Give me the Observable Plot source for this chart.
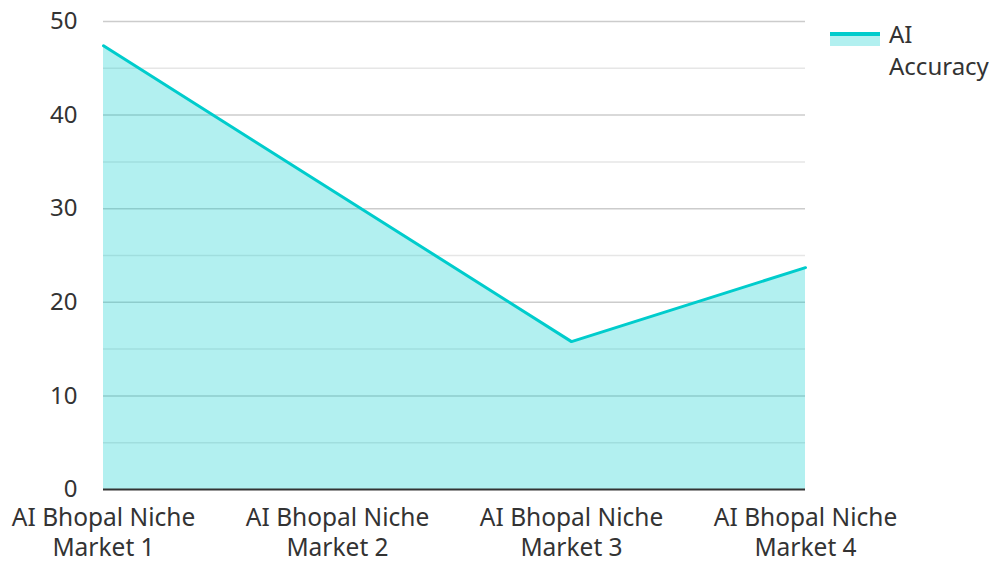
<!DOCTYPE html>
<html>
<head>
<meta charset="utf-8">
<script src="https://cdn.jsdelivr.net/npm/d3@7"></script>
<script src="https://cdn.jsdelivr.net/npm/@observablehq/plot@0.6"></script>
<style>
  html, body { margin: 0; padding: 0; background: #fff; }
  #wrap { position: relative; width: 995px; height: 561px; font-family: "Noto Sans", sans-serif; }
  #legend { position: absolute; left: 830px; top: 18px; display: flex; align-items: flex-start; color: #333; font-size: 24px; line-height: 32px; }
  #legend .sw { width: 50px; height: 14px; margin-top: 14px; margin-right: 9px; position: relative; }
</style>
</head>
<body>
<div id="wrap"><div id="chart"></div><div id="legend"></div></div>
<script>
const categories = ["AI Bhopal Niche Market 1", "AI Bhopal Niche Market 2", "AI Bhopal Niche Market 3", "AI Bhopal Niche Market 4"];
const values = [47.4, 31.6, 15.8, 23.7];
const seriesName = "AI Accuracy";
const majorTicks = [0, 10, 20, 30, 40, 50];
const minorTicks = [5, 15, 25, 35, 45];

const data = categories.map((c, i) => ({category: c, value: values[i]}));
const lineColor = "#00cccc";

const chart = Plot.plot({
  width: 995,
  height: 561,
  marginLeft: 103,
  marginRight: 190,
  marginTop: 21,
  marginBottom: 72,
  style: {fontFamily: "Noto Sans, sans-serif", fontSize: "24px", color: "#333", background: "#fff"},
  x: {type: "point", domain: categories, padding: 0},
  y: {domain: [0, 50]},
  marks: [
    Plot.ruleY(minorTicks, {stroke: "#e6e6e6", strokeWidth: 1.5}),
    Plot.ruleY(majorTicks.filter(d => d > 0), {stroke: "#cccccc", strokeWidth: 1.5}),
    Plot.areaY(data, {x: "category", y: "value", fill: lineColor, fillOpacity: 0.3}),
    Plot.lineY(data, {x: "category", y: "value", stroke: lineColor, strokeWidth: 3}),
    Plot.ruleY([0], {stroke: "#333", strokeWidth: 2}),
    Plot.axisY({ticks: majorTicks, tickSize: 0, tickPadding: 26, label: null, fontSize: 24, fill: "#333"}),
    Plot.axisX({tickSize: 0, tickPadding: 15, label: null, fontSize: 24.5, fill: "#333", lineHeight: 1.22,
      tickFormat: d => d.replace(/ (Market)/, "\n$1")})
  ]
});
document.getElementById("chart").appendChild(chart);

const legend = document.getElementById("legend");
legend.innerHTML = `<div class="sw"><div style="position:absolute;left:0;top:0;width:50px;height:14px;background:${lineColor};opacity:0.3"></div><div style="position:absolute;left:0;top:0;width:50px;height:4px;background:${lineColor}"></div></div><div>${seriesName.replace(" ", "<br>")}</div>`;
</script>
</body>
</html>
